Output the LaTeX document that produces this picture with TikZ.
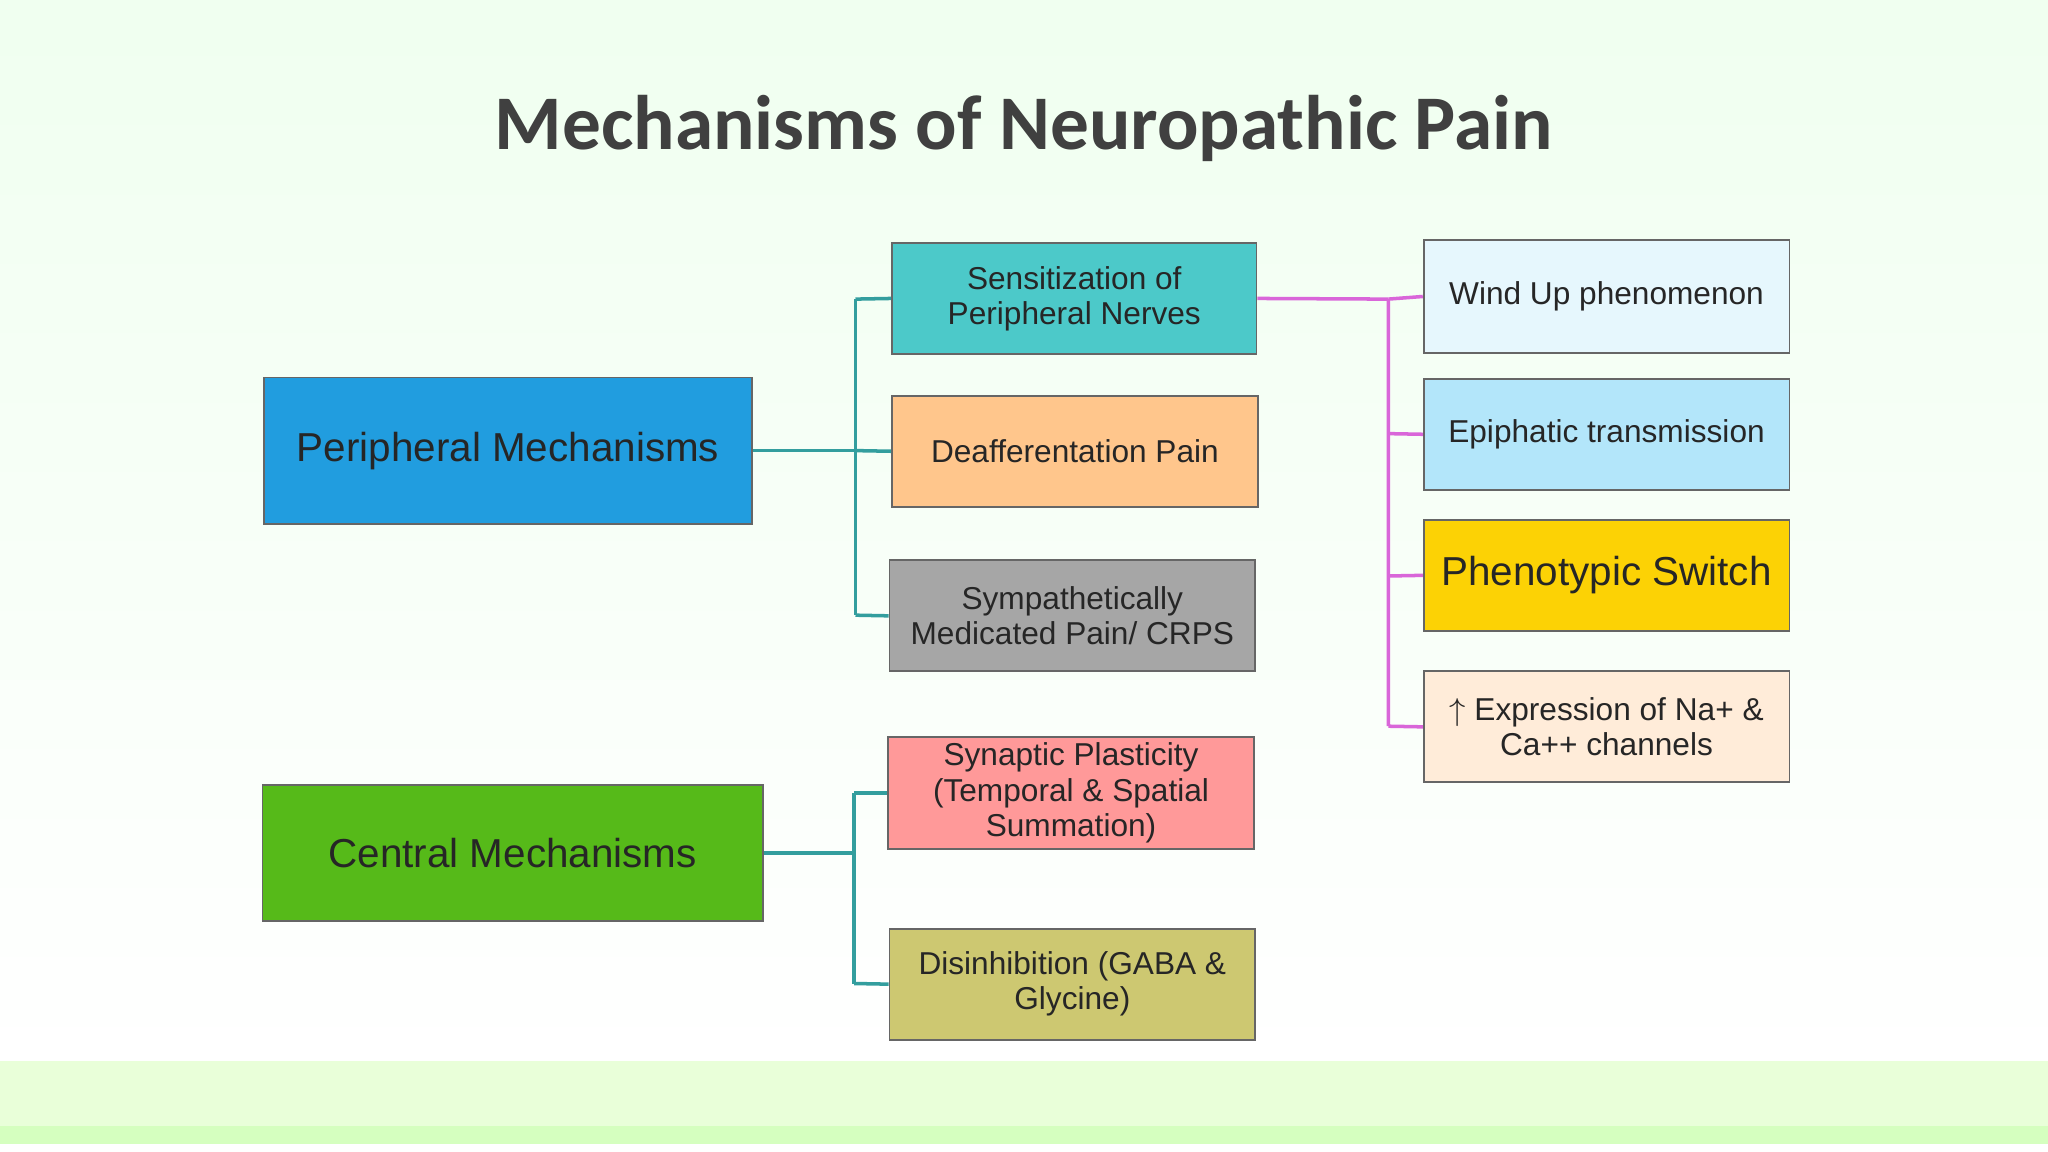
\documentclass[tikz,border=0pt]{standalone}
\usepackage{fontspec}
\setmainfont{Liberation Sans}
\newfontfamily\titlefont{Carlito}
\begin{document}
\begin{tikzpicture}[x=0.013061cm,y=-0.013061cm,
  box/.style={draw=black!60,line width=0.5pt,inner sep=0pt,align=center,text=black!85,font=\fontsize{9}{10}\selectfont},
  big/.style={font=\fontsize{11.5}{13}\selectfont},
  tl/.style={draw=teal!60!cyan!60!gray,line width=1pt},
  pl/.style={draw=violet!50!magenta!60,line width=1pt}]
\shade[top color=green!6,bottom color=white] (0,0) rectangle (1568,812);
\useasboundingbox (0,0) rectangle (1568,882);
\fill[green!45!lime!15!white] (0,812) rectangle (1568,862);
\fill[green!55!lime!25!white] (0,862) rectangle (1568,876);
\fill[white] (0,876) rectangle (1568,882);
\node[font=\titlefont\bfseries\fontsize{22}{26}\selectfont,text=black!75] (title) at (784,98) {Mechanisms of Neuropathic Pain};
\def\bx#1#2#3#4#5#6#7{\node[box,#7,fill=#6,minimum width={(#3-#2)*0.013061cm},minimum height={(#5-#4)*0.013061cm}] (#1) at ({(#2+#3)/2},{(#4+#5)/2})}
\bx{per}{202}{576}{289}{401}{cyan!80!blue!90}{big}{Peripheral Mechanisms};
\bx{cen}{201}{584}{601}{705}{green!50!lime!70!black!90}{big}{Central Mechanisms};
\bx{sen}{683}{962}{186}{271}{teal!60!cyan!70}{}{Sensitization of\\Peripheral Nerves};
\bx{dea}{683}{963}{303}{388}{orange!45!white}{}{Deafferentation Pain};
\bx{sym}{681}{961}{429}{514}{black!35}{}{Sympathetically\\Medicated Pain/ CRPS};
\bx{syn}{680}{960}{564}{650}{red!40!white}{}{Synaptic Plasticity\\(Temporal \& Spatial\\Summation)};
\bx{dis}{681}{961}{711}{796}{olive!45!white}{}{Disinhibition (GABA \&\\Glycine)};
\bx{win}{1090}{1370}{184}{270}{cyan!10!white}{}{Wind Up phenomenon};
\bx{epi}{1090}{1370}{290}{375}{cyan!30!white}{}{Epiphatic transmission};
\bx{phe}{1090}{1370}{398}{483}{yellow!70!orange}{big}{Phenotypic Switch};
\bx{exp}{1090}{1370}{514}{599}{orange!15!white}{}{$\uparrow$ Expression of Na+ \&\\Ca++ channels};
\draw[tl] (per.east) -- (655,345) (655,229) -- (655,471);
\draw[tl] (655,229) -- (sen.west);
\draw[tl] (655,345) -- (dea.west);
\draw[tl] (655,471) -- (sym.west);
\draw[tl] (cen.east) -- (654,653) (654,607) -- (654,753);
\draw[tl] (654,607) -- (syn.west);
\draw[tl] (654,753) -- (dis.west);
\draw[pl] (sen.east) -- (1063,229) (1063,229) -- (1063,556);
\draw[pl] (1063,229) -- (win.west);
\draw[pl] (1063,332) -- (epi.west);
\draw[pl] (1063,441) -- (phe.west);
\draw[pl] (1063,556) -- (exp.west);
\end{tikzpicture}
\end{document}
